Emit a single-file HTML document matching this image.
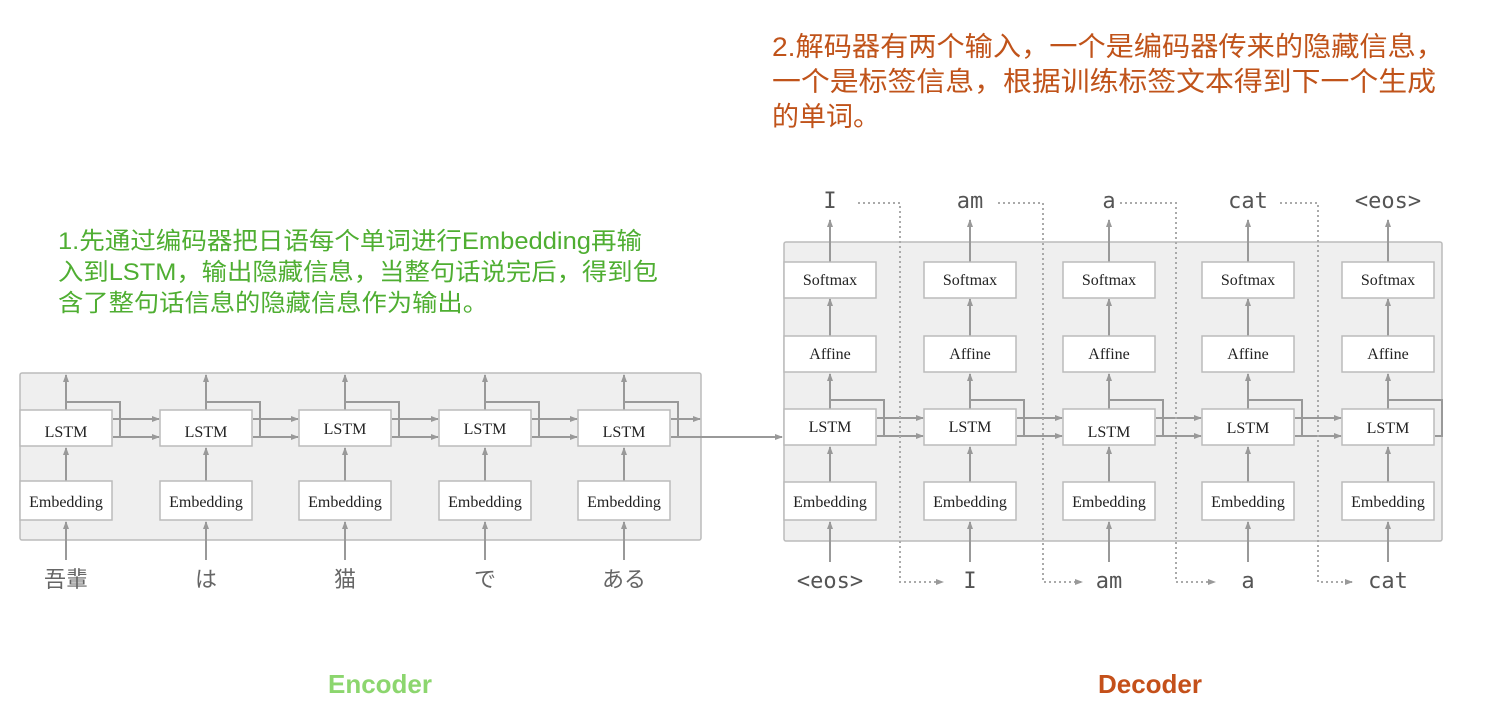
<!DOCTYPE html>
<html><head><meta charset="utf-8"><style>
html,body{margin:0;padding:0;background:#fff;}
svg{display:block}
.t{font-family:"Liberation Sans","Noto Sans CJK SC",sans-serif;}
.b{font-family:"Liberation Serif",serif;font-size:16px;fill:#222;text-anchor:middle}
.m{font-family:"DejaVu Sans Mono","Liberation Mono",monospace;font-size:22px;fill:#555;text-anchor:middle}
</style></head><body>
<svg id="s" width="1499" height="721" xmlns="http://www.w3.org/2000/svg">
<defs><marker id="ar" markerWidth="8" markerHeight="8" refX="7" refY="4" orient="auto" markerUnits="userSpaceOnUse"><path d="M0,1 L8,4 L0,7 z" fill="#999"/></marker></defs>
<rect x="20" y="373" width="681" height="167" fill="#efefef" stroke="#bbb" stroke-width="1.5" rx="2"/>
<rect x="784" y="242" width="658" height="299" fill="#efefef" stroke="#bbb" stroke-width="1.5" rx="2"/>
<g id="g"></g>
<g class="t">
<text x="772" y="56" font-size="27" fill="#c0531a" textLength="672" lengthAdjust="spacingAndGlyphs">2.解码器有两个输入，一个是编码器传来的隐藏信息，</text>
<text x="772" y="91" font-size="27" fill="#c0531a" textLength="664" lengthAdjust="spacingAndGlyphs">一个是标签信息，根据训练标签文本得到下一个生成</text>
<text x="772" y="126" font-size="27" fill="#c0531a">的单词。</text>
<text x="58" y="249" font-size="24" fill="#4fae32" textLength="584" lengthAdjust="spacingAndGlyphs">1.先通过编码器把日语每个单词进行Embedding再输</text>
<text x="58" y="280" font-size="24" fill="#4fae32" textLength="600" lengthAdjust="spacingAndGlyphs">入到LSTM，输出隐藏信息，当整句话说完后，得到包</text>
<text x="58" y="311" font-size="24" fill="#4fae32" textLength="430" lengthAdjust="spacingAndGlyphs">含了整句话信息的隐藏信息作为输出。</text>
<text x="380" y="693" font-size="26" font-weight="bold" fill="#8cd66e" text-anchor="middle">Encoder</text>
<text x="1150" y="693" font-size="26" font-weight="bold" fill="#c4501a" text-anchor="middle">Decoder</text>
</g>
<g class="t" font-size="22" fill="#666" text-anchor="middle">
<text x="66" y="587">吾輩</text><text x="206" y="587">は</text><text x="345" y="587">猫</text><text x="485" y="587">で</text><text x="624" y="587">ある</text>
</g>
<g>
<text class="m" x="830" y="208">I</text><text class="m" x="970" y="208">am</text><text class="m" x="1109" y="208">a</text><text class="m" x="1248" y="208">cat</text><text class="m" x="1388" y="208">&lt;eos&gt;</text>
<text class="m" x="830" y="588">&lt;eos&gt;</text><text class="m" x="970" y="588">I</text><text class="m" x="1109" y="588">am</text><text class="m" x="1248" y="588">a</text><text class="m" x="1388" y="588">cat</text>
</g>
<g id="lb">
<text class="b" x="66" y="437">LSTM</text><text class="b" x="206" y="437">LSTM</text><text class="b" x="345" y="434">LSTM</text><text class="b" x="485" y="434">LSTM</text><text class="b" x="624" y="437">LSTM</text>
<text class="b" x="66" y="507">Embedding</text><text class="b" x="206" y="507">Embedding</text><text class="b" x="345" y="507">Embedding</text><text class="b" x="485" y="507">Embedding</text><text class="b" x="624" y="507">Embedding</text>
<text class="b" x="830" y="285">Softmax</text><text class="b" x="970" y="285">Softmax</text><text class="b" x="1109" y="285">Softmax</text><text class="b" x="1248" y="285">Softmax</text><text class="b" x="1388" y="285">Softmax</text>
<text class="b" x="830" y="359">Affine</text><text class="b" x="970" y="359">Affine</text><text class="b" x="1109" y="359">Affine</text><text class="b" x="1248" y="359">Affine</text><text class="b" x="1388" y="359">Affine</text>
<text class="b" x="830" y="432">LSTM</text><text class="b" x="970" y="432">LSTM</text><text class="b" x="1109" y="437">LSTM</text><text class="b" x="1248" y="433">LSTM</text><text class="b" x="1388" y="433">LSTM</text>
<text class="b" x="830" y="507">Embedding</text><text class="b" x="970" y="507">Embedding</text><text class="b" x="1109" y="507">Embedding</text><text class="b" x="1248" y="507">Embedding</text><text class="b" x="1388" y="507">Embedding</text>
</g>
</svg>
<script>
var g=document.getElementById('g'),NS='http://www.w3.org/2000/svg';
function el(t,a){var e=document.createElementNS(NS,t);for(var k in a)e.setAttribute(k,a[k]);g.appendChild(e);return e;}
function box(cx,y1,y2){el('rect',{x:cx-46,y:y1,width:92,height:y2-y1,fill:'#fff',stroke:'#bbb','stroke-width':1.5});}
function ln(d,arr,dash){var a={d:d,fill:'none',stroke:'#999','stroke-width':2};if(arr)a['marker-end']='url(#ar)';if(dash){a['stroke-dasharray']='2 3';a.stroke='#aaa';}el('path',a);}
var E=[66,206,345,485,624],D=[830,970,1109,1248,1388];
E.forEach(function(c,i){
 ln('M'+c+',560 L'+c+',522',1);ln('M'+c+',481 L'+c+',448',1);
 ln('M'+c+',410 L'+c+',375',1);
 ln('M'+c+',402 L'+(c+54)+',402 L'+(c+54)+',437');
 var nx=i<4?E[i+1]-47:700;
 ln('M'+(c+47)+',419 L'+nx+',419',1);
 if(i<4)ln('M'+(c+47)+',437 L'+nx+',437',1);
});
ln('M671,437 L782,437',1);
E.forEach(function(c){box(c,410,446);box(c,481,520);});
D.forEach(function(c,i){
 ln('M'+c+',562 L'+c+',522',1);ln('M'+c+',482 L'+c+',447',1);
 ln('M'+c+',409 L'+c+',374',1);ln('M'+c+',336 L'+c+',299',1);ln('M'+c+',262 L'+c+',220',1);
 ln('M'+c+',400 L'+(c+54)+',400 L'+(c+54)+',437');
 if(i<4){var nx=D[i+1]-47;ln('M'+(c+47)+',418 L'+nx+',418',1);ln('M'+(c+47)+',436 L'+nx+',436',1);}
 else{ln('M'+(c+47)+',436 L1441,436');}
});
D.forEach(function(c){box(c,262,298);box(c,336,372);box(c,409,445);box(c,482,520);});
var tx=[[858,900,943],[998,1043,1082],[1120,1176,1215],[1280,1318,1352]];
tx.forEach(function(t){ln('M'+t[0]+',203 L'+t[1]+',203 L'+t[1]+',582 L'+t[2]+',582',1,1);});
</script>
</body></html>
